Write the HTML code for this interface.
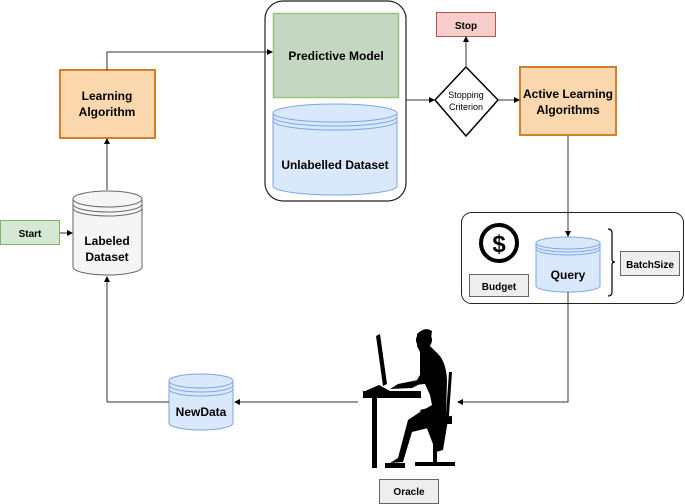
<!DOCTYPE html>
<html><head><style>body{margin:0;background:#fff}svg{display:block}text{font-family:"Liberation Sans",sans-serif;font-weight:bold;text-anchor:middle}</style></head>
<body>
<svg width="685" height="504" viewBox="0 0 685 504" xmlns="http://www.w3.org/2000/svg">
<defs><marker id="a" markerWidth="6" markerHeight="6" refX="5" refY="3" orient="auto"><path d="M0,0L6,3L0,6z" fill="#000"/></marker></defs>
<rect x="265" y="1" width="141" height="200" rx="18" fill="#fff" stroke="#222" stroke-width="1.2"/>
<rect x="273.5" y="13.5" width="125" height="84" fill="#c5d7c3" stroke="#97c47f" stroke-width="1.5"/>
<text x="336" y="60" font-size="12">Predictive Model</text>
<g stroke="#7ea6e0" fill="#dae8fc">
<path d="M273,113V186A62,9 0 0 0 397,186V113"/>
<ellipse cx="335" cy="113" rx="62" ry="9"/>
<path d="M273,117A62,9 0 0 0 397,117M273,121A62,9 0 0 0 397,121" fill="none"/>
</g>
<text x="335" y="169" font-size="12">Unlabelled Dataset</text>
<rect x="60" y="70" width="95" height="68" fill="#fad7ac" stroke="#d07f2a" stroke-width="2"/>
<text x="107" y="100" font-size="12">Learning</text><text x="107" y="116" font-size="12">Algorithm</text>
<rect x="0.5" y="220.5" width="59" height="24" fill="#d5e8d4" stroke="#82b366"/>
<text x="30" y="237" font-size="10">Start</text>
<g stroke="#666" fill="#f5f5f5">
<path d="M73,199V267A34.5,8 0 0 0 142,267V199"/>
<ellipse cx="107.5" cy="199" rx="34.5" ry="8"/>
<path d="M73,204A34.5,8 0 0 0 142,204M73,208A34.5,8 0 0 0 142,208" fill="none"/>
</g>
<text x="107" y="245" font-size="12">Labeled</text><text x="107" y="261" font-size="12">Dataset</text>
<rect x="436.5" y="12.5" width="59" height="24" fill="#f8cecc" stroke="#b85450"/>
<text x="466" y="29" font-size="10">Stop</text>
<path d="M466,67L498,100L466,136L435,100Z" fill="#fff" stroke="#000" stroke-width="1.5"/>
<text x="466" y="98" font-size="9" style="font-weight:normal">Stopping</text><text x="466" y="110" font-size="9" style="font-weight:normal">Criterion</text>
<rect x="520" y="67" width="96" height="68" fill="#fad7ac" stroke="#d07f2a" stroke-width="2"/>
<text x="568" y="98" font-size="12">Active Learning</text><text x="568" y="114" font-size="12">Algorithms</text>
<rect x="461.5" y="212.5" width="222" height="91" rx="10" fill="#fff" stroke="#222"/>
<circle cx="499" cy="243" r="18" fill="#fff" stroke="#000" stroke-width="4"/>
<text x="499" y="252" font-size="24">$</text>
<rect x="469.5" y="274.5" width="59" height="22" fill="#eee" stroke="#666"/>
<text x="499" y="290" font-size="10">Budget</text>
<g stroke="#7ea6e0" fill="#dae8fc">
<path d="M536,243V286A32,6 0 0 0 600,286V243"/>
<ellipse cx="568" cy="243" rx="32" ry="6"/>
<path d="M536,246A32,6 0 0 0 600,246M536,249A32,6 0 0 0 600,249" fill="none"/>
</g>
<text x="568" y="279" font-size="12">Query</text>
<path d="M608,229Q612,229 612,233V259Q612,262 615,262Q612,262 612,265V292Q612,296 608,296" fill="none" stroke="#000" stroke-width="1.2"/>
<rect x="620.5" y="251.5" width="59" height="24" fill="#eee" stroke="#666"/>
<text x="650" y="268" font-size="10">BatchSize</text>
<g stroke="#7ea6e0" fill="#dae8fc">
<path d="M169,381V423A32,7 0 0 0 233,423V381"/>
<ellipse cx="201" cy="381" rx="32" ry="7"/>
<path d="M169,385A32,7 0 0 0 233,385M169,389A32,7 0 0 0 233,389" fill="none"/>
</g>
<text x="201" y="416" font-size="12">NewData</text>
<g stroke="#333" stroke-width="1" fill="none">
<path d="M107,70V52H272" marker-end="url(#a)"/>
<path d="M107,190V139" marker-end="url(#a)"/>
<path d="M60,233H72" marker-end="url(#a)"/>
<path d="M107,402V277" marker-end="url(#a)"/>
<path d="M169,402H107"/>
<path d="M358,402H235" marker-end="url(#a)"/>
<path d="M568,292V402H458" marker-end="url(#a)"/>
<path d="M406,100H434" marker-end="url(#a)"/>
<path d="M498,100H519" marker-end="url(#a)"/>
<path d="M466,67V37" marker-end="url(#a)"/>
<path d="M568,136V236" marker-end="url(#a)"/>
</g>
<g fill="#000">
<path d="M376,336L380,334L387,384L383,386Z"/>
<path d="M379,385L392,392L363,392Z"/>
<rect x="363" y="391" width="58" height="7"/>
<rect x="372" y="396" width="5" height="72"/>
<path d="M390,389L412,388L420,384L418,380L398,384Z"/>
<circle cx="424" cy="340" r="8"/>
<path d="M417,334Q425,326 432,331L430,346L436,352Q446,360 447,380L446,415L440,425L412,432L403,462L390,463L398,458L408,420L420,412L432,405L430,395L425,384L414,385L420,375L420,352L417,346Z"/>
<path d="M420,410L440,405L448,420L443,450L436,452Z"/>
<rect x="449" y="372" width="3" height="45" transform="rotate(4 450 372)"/>
<path d="M420,418L452,416L452,424L420,424Z"/>
<rect x="433" y="424" width="4" height="38"/>
<path d="M415,462L455,462L455,466L415,466Z"/>
<path d="M385,463L405,463L405,468L385,468Z"/>
</g>
<rect x="379.5" y="479.5" width="59" height="24" fill="#eee" stroke="#666"/>
<text x="409" y="495" font-size="10">Oracle</text>
</svg>
</body></html>
